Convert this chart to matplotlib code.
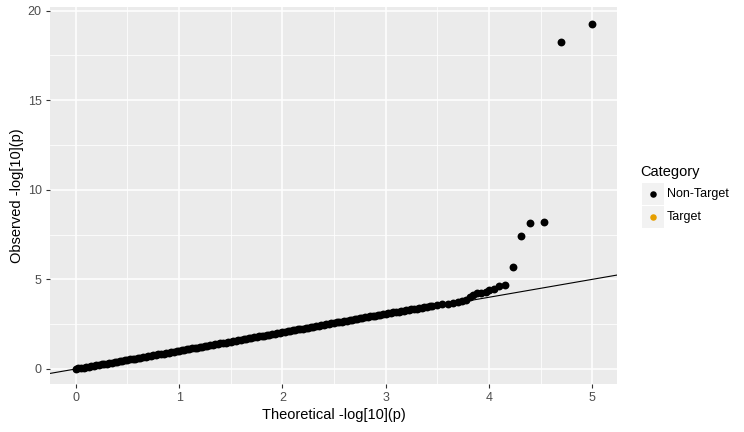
import matplotlib
matplotlib.use("Agg")
import matplotlib.pyplot as plt
from matplotlib.patches import Rectangle

plt.rcParams['font.family'] = ['Liberation Sans', 'DejaVu Sans']

# QQ data: theoretical vs observed -log10(p)
theoretical = [0.000, 0.025, 0.050, 0.075, 0.100, 0.125, 0.150, 0.175, 0.200, 0.225,
               0.250, 0.275, 0.300, 0.325, 0.350, 0.375, 0.400, 0.425, 0.450, 0.475,
               0.500, 0.525, 0.550, 0.575, 0.600, 0.625, 0.650, 0.675, 0.700, 0.725,
               0.750, 0.775, 0.800, 0.825, 0.850, 0.875, 0.900, 0.925, 0.950, 0.975,
               1.000, 1.025, 1.050, 1.075, 1.100, 1.125, 1.150, 1.175, 1.200, 1.225,
               1.250, 1.275, 1.300, 1.325, 1.350, 1.375, 1.400, 1.425, 1.450, 1.475,
               1.500, 1.525, 1.550, 1.575, 1.600, 1.625, 1.650, 1.675, 1.700, 1.725,
               1.750, 1.775, 1.800, 1.825, 1.850, 1.875, 1.900, 1.925, 1.950, 1.975,
               2.000, 2.025, 2.050, 2.075, 2.100, 2.125, 2.150, 2.175, 2.200, 2.225,
               2.250, 2.275, 2.300, 2.325, 2.350, 2.375, 2.400, 2.425, 2.450, 2.475,
               2.500, 2.525, 2.550, 2.575, 2.600, 2.625, 2.650, 2.675, 2.700, 2.725,
               2.750, 2.775, 2.800, 2.825, 2.850, 2.875, 2.900, 2.925, 2.950, 2.975,
               3.000, 3.025, 3.050, 3.075, 3.100, 3.125, 3.150, 3.175, 3.200, 3.225,
               3.250, 3.275, 3.300, 3.325, 3.350, 3.375, 3.400, 3.425,
               3.45, 3.50, 3.55, 3.60, 3.65, 3.70, 3.74, 3.78, 3.82, 3.85,
               3.88, 3.92, 3.97, 4.00, 4.05, 4.10, 4.16, 4.23, 4.31, 4.40,
               4.53, 4.70, 5.00]
observed = [0.000, 0.026, 0.051, 0.076, 0.101, 0.127, 0.152, 0.177, 0.202, 0.228,
            0.253, 0.278, 0.303, 0.329, 0.354, 0.379, 0.405, 0.430, 0.455, 0.481,
            0.506, 0.531, 0.557, 0.582, 0.607, 0.633, 0.658, 0.684, 0.709, 0.734,
            0.760, 0.785, 0.811, 0.836, 0.861, 0.887, 0.912, 0.938, 0.963, 0.989,
            1.014, 1.040, 1.065, 1.091, 1.116, 1.142, 1.167, 1.193, 1.219, 1.244,
            1.270, 1.295, 1.321, 1.347, 1.372, 1.398, 1.424, 1.449, 1.475, 1.501,
            1.527, 1.552, 1.578, 1.604, 1.630, 1.656, 1.681, 1.707, 1.733, 1.759,
            1.785, 1.811, 1.837, 1.863, 1.889, 1.915, 1.941, 1.967, 1.993, 2.019,
            2.045, 2.071, 2.097, 2.123, 2.149, 2.176, 2.202, 2.228, 2.254, 2.281,
            2.307, 2.333, 2.360, 2.386, 2.412, 2.439, 2.465, 2.491, 2.518, 2.544,
            2.570, 2.596, 2.622, 2.648, 2.674, 2.700, 2.726, 2.752, 2.778, 2.804,
            2.830, 2.855, 2.881, 2.906, 2.932, 2.957, 2.982, 3.007, 3.032, 3.057,
            3.081, 3.106, 3.130, 3.154, 3.178, 3.202, 3.226, 3.250, 3.274, 3.298,
            3.322, 3.346, 3.370, 3.395, 3.420, 3.445, 3.470, 3.495,
            3.52, 3.56, 3.60, 3.65, 3.69, 3.73, 3.78, 3.85, 4.00, 4.15,
            4.24, 4.26, 4.28, 4.40, 4.47, 4.62, 4.68, 5.68, 7.41, 8.14,
            8.19, 18.25, 19.25]
category = ["Non-Target"] * len(theoretical)

legend_labels = ["Non-Target", "Target"]
legend_colors = ["#000000", "#E69F00"]

fig = plt.figure(figsize=(7.44, 4.32), dpi=100)
ax = fig.add_axes([50 / 744, 1 - 384 / 432, 567 / 744, 377 / 432])
ax.set_facecolor("#EBEBEB")

for lab, col in zip(legend_labels, legend_colors):
    xs = [t for t, c in zip(theoretical, category) if c == lab]
    ys = [o for o, c in zip(observed, category) if c == lab]
    if xs:
        ax.scatter(xs, ys, s=32, color=col, linewidths=0, zorder=3)

ax.axline((0, 0), slope=1, color="black", lw=0.8, zorder=4)

ax.set_xlim(-0.25, 5.24)
ax.set_ylim(-0.84, 20.2)
ax.set_xticks([0, 1, 2, 3, 4, 5])
ax.set_yticks([0, 5, 10, 15, 20])
ax.set_xticks([0.5, 1.5, 2.5, 3.5, 4.5], minor=True)
ax.set_yticks([2.5, 7.5, 12.5, 17.5], minor=True)
ax.grid(which="major", color="white", lw=1.1)
ax.grid(which="minor", color="white", lw=0.55)
ax.set_axisbelow(True)
for s in ax.spines.values():
    s.set_visible(False)
ax.tick_params(which="major", length=3, width=0.8, color="#333333",
               labelsize=9, labelcolor="#4D4D4D", pad=3)
ax.tick_params(which="minor", length=0)

ax.set_xlabel("Theoretical -log[10](p)", fontsize=10.5, labelpad=3)
ax.set_ylabel("Observed -log[10](p)", fontsize=10.5, labelpad=3)

# legend drawn in pixel coordinates
lax = fig.add_axes([0, 0, 1, 1], facecolor="none")
lax.set_xlim(0, 744)
lax.set_ylim(432, 0)
lax.axis("off")
lax.text(640, 172, "Category", fontsize=10.5, va="center", ha="left")
for i, (lab, col) in enumerate(zip(legend_labels, legend_colors)):
    yc = 194 + i * 23
    lax.add_patch(Rectangle((642, yc - 11), 22, 22, color="#F2F2F2", lw=0))
    lax.scatter([653], [yc], s=22, color=col, linewidths=0)
    lax.text(667, yc, lab, fontsize=9, va="center", ha="left")

fig.savefig("out.png", dpi=100)
